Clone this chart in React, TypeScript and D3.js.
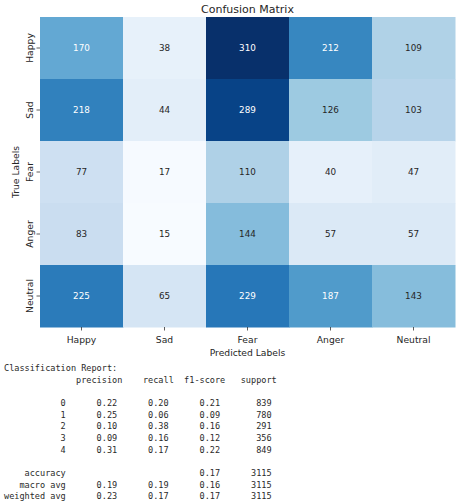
import React, { useEffect, useRef } from "react";
import * as d3 from "d3";

const categories = ["Happy", "Sad", "Fear", "Anger", "Neutral"];
const matrix = [
  [170, 38, 310, 212, 109],
  [218, 44, 289, 126, 103],
  [77, 17, 110, 40, 47],
  [83, 15, 144, 57, 57],
  [225, 65, 229, 187, 143],
];
const reportClasses = ["0", "1", "2", "3", "4"];
const precision = [0.22, 0.25, 0.1, 0.09, 0.31];
const recall = [0.2, 0.06, 0.38, 0.16, 0.17];
const f1 = [0.21, 0.09, 0.16, 0.12, 0.22];
const support = [839, 780, 291, 356, 849];
const accuracy = 0.17;
const totalSupport = 3115;
const macroAvg = [0.19, 0.19, 0.16];
const weightedAvg = [0.23, 0.17, 0.17];

const bluesStops = ["#f7fbff", "#deebf7", "#c6dbef", "#9ecae1", "#6baed6", "#4292c6", "#2171b5", "#08519c", "#08306b"];

function luminance(c: string) {
  const rgb = d3.rgb(c);
  const lin = (v: number) => {
    const s = v / 255;
    return s <= 0.03928 ? s / 12.92 : Math.pow((s + 0.055) / 1.055, 2.4);
  };
  return 0.2126 * lin(rgb.r) + 0.7152 * lin(rgb.g) + 0.0722 * lin(rgb.b);
}

export default function App() {
  const ref = useRef<SVGSVGElement>(null);
  useEffect(() => {
    document.body.style.margin = "0";
    const svg = d3.select(ref.current);
    svg.selectAll("*").remove();
    const left = 40, right = 455, top = 17, bottom = 327;
    const x = d3.scaleBand().domain(categories).range([left, right]).padding(0);
    const y = d3.scaleBand().domain(categories).range([top, bottom]).padding(0);
    const flat = matrix.flat();
    const vmin = d3.min(flat)!, vmax = d3.max(flat)!;
    const norm = d3.scaleLinear().domain([vmin, vmax]).range([0, 1]);
    const cmap = d3.scaleLinear<string>()
      .domain(d3.range(bluesStops.length).map((i) => i / (bluesStops.length - 1)))
      .range(bluesStops)
      .interpolate(d3.interpolateRgb);
    const font = "DejaVu Sans, sans-serif";

    const cells = svg.append("g");
    matrix.forEach((row, i) => {
      row.forEach((v, j) => {
        const col = cmap(norm(v));
        cells.append("rect")
          .attr("x", x(categories[j])!)
          .attr("y", y(categories[i])!)
          .attr("width", x.bandwidth() + 0.5)
          .attr("height", y.bandwidth() + 0.5)
          .attr("fill", col);
        cells.append("text")
          .attr("x", x(categories[j])! + x.bandwidth() / 2)
          .attr("y", y(categories[i])! + y.bandwidth() / 2)
          .attr("text-anchor", "middle")
          .attr("dominant-baseline", "central")
          .attr("font-family", font)
          .attr("font-size", 8.8)
          .attr("fill", luminance(col) > 0.408 ? "#262626" : "#ffffff")
          .text(v);
      });
    });

    categories.forEach((c) => {
      const cx = x(c)! + x.bandwidth() / 2;
      svg.append("line").attr("x1", cx).attr("x2", cx).attr("y1", bottom).attr("y2", bottom + 3.5)
        .attr("stroke", "#333").attr("stroke-width", 0.8);
      svg.append("text").attr("x", cx).attr("y", 343).attr("text-anchor", "middle")
        .attr("font-family", font).attr("font-size", 9.2).attr("fill", "#262626").text(c);
      const cy = y(c)! + y.bandwidth() / 2;
      svg.append("line").attr("x1", left - 3.5).attr("x2", left).attr("y1", cy).attr("y2", cy)
        .attr("stroke", "#333").attr("stroke-width", 0.8);
      svg.append("text").attr("transform", `translate(33,${cy}) rotate(-90)`).attr("text-anchor", "middle")
        .attr("font-family", font).attr("font-size", 9.2).attr("fill", "#262626").text(c);
    });

    svg.append("text").attr("x", (left + right) / 2).attr("y", 356).attr("text-anchor", "middle")
      .attr("font-family", font).attr("font-size", 9.2).attr("fill", "#262626").text("Predicted Labels");
    svg.append("text").attr("transform", `translate(19,${(top + bottom) / 2}) rotate(-90)`).attr("text-anchor", "middle")
      .attr("font-family", font).attr("font-size", 9.2).attr("fill", "#262626").text("True Labels");
    svg.append("text").attr("x", (left + right) / 2).attr("y", 13).attr("text-anchor", "middle")
      .attr("font-family", font).attr("font-size", 11).attr("fill", "#262626").text("Confusion Matrix");

    const f = (v: number) => v.toFixed(2);
    const lines: string[] = [];
    lines.push("Classification Report:");
    lines.push(" ".repeat(14) + "precision    recall  f1-score   support");
    lines.push("");
    reportClasses.forEach((c, i) => {
      lines.push(c.padStart(12) + f(precision[i]).padStart(10) + f(recall[i]).padStart(10) + f(f1[i]).padStart(10) + String(support[i]).padStart(10));
    });
    lines.push("");
    lines.push("accuracy".padStart(12) + "".padStart(20) + f(accuracy).padStart(10) + String(totalSupport).padStart(10));
    lines.push("macro avg".padStart(12) + macroAvg.map((v) => f(v).padStart(10)).join("") + String(totalSupport).padStart(10));
    lines.push("weighted avg".padStart(12) + weightedAvg.map((v) => f(v).padStart(10)).join("") + String(totalSupport).padStart(10));
    const rep = svg.append("g");
    lines.forEach((l, i) => {
      rep.append("text").attr("x", 4).attr("y", 371 + i * 11.67)
        .attr("font-family", "DejaVu Sans Mono, monospace").attr("font-size", 8.55)
        .attr("fill", "#2a2a2a").style("white-space", "pre").text(l);
    });
  }, []);
  return <svg ref={ref} width={474} height={504} style={{ display: "block", background: "#fff" }} />;
}
